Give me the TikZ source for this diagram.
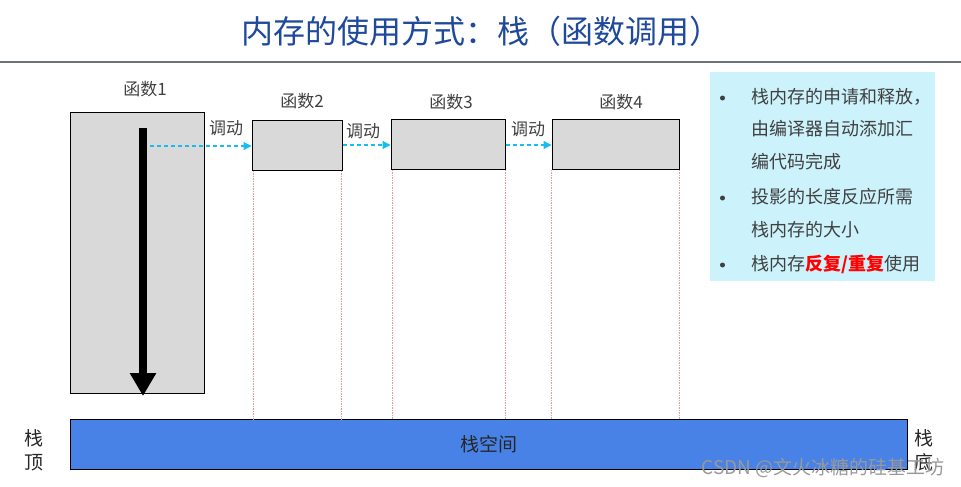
\documentclass[tikz,border=0pt]{standalone}
\usepackage{fontspec}
\setmainfont{Noto Sans CJK SC}
\usetikzlibrary{arrows.meta}
\definecolor{titleblue}{RGB}{31,73,155}
\definecolor{rulegray}{RGB}{110,115,122}
\definecolor{boxgray}{RGB}{217,217,217}
\definecolor{callcyan}{RGB}{20,190,240}
\definecolor{infocyan}{RGB}{204,242,252}
\definecolor{stackblue}{RGB}{72,130,230}
\definecolor{txtgray}{RGB}{64,64,64}
\definecolor{guidered}{RGB}{245,150,150}
\tikzset{
  funcbox/.style={draw=black, line width=1pt, fill=boxgray},
  flabel/.style={font=\fontsize{17}{20}\selectfont, text=txtgray, inner sep=0pt},
  calllink/.style={draw=callcyan, line width=1.1pt, dash pattern=on 4pt off 3pt, -{Triangle[length=8pt,width=8pt]}},
  guide/.style={draw=guidered, line width=0.6pt, dash pattern=on 1.5pt off 1pt},
  info/.style={font=\fontsize{18}{20}\selectfont, text=txtgray, anchor=west, inner sep=0pt},
  bul/.style={circle, fill=txtgray, minimum size=5pt, inner sep=0pt},
}
\begin{document}
\begin{tikzpicture}[x=1pt,y=-1pt]
\useasboundingbox (0,0) rectangle (961,487);
% title
\node[font=\fontsize{32}{35}\selectfont, text=titleblue, inner sep=0pt] (title) at (481,31) {内存的使用方式：栈（函数调用）};
\draw[rulegray, line width=1.5pt] (0,62) -- (961,62);
% function boxes
\node[funcbox, minimum width=134pt, minimum height=281pt, inner sep=0pt] (f1) at (137,252.5) {};
\node[funcbox, minimum width=90pt, minimum height=50pt, inner sep=0pt] (f2) at (297,145) {};
\node[funcbox, minimum width=114pt, minimum height=50pt, inner sep=0pt] (f3) at (448,144) {};
\node[funcbox, minimum width=127pt, minimum height=50pt, inner sep=0pt] (f4) at (615.5,144) {};
\node[flabel] (l1) at (145,89) {函数1};
\node[flabel] (l2) at (302,101) {函数2};
\node[flabel] (l3) at (451,102) {函数3};
\node[flabel] (l4) at (621,102) {函数4};
% big arrow
\coordinate (bs) at (143,128);
\coordinate (be) at (143,396);
\draw[line width=8pt, -{Triangle[length=23pt,width=25pt]}] (bs) -- (be);
% call arrows
\coordinate (c1) at (150,146);
\draw[calllink] (c1) -- (f2.west |- c1);
\draw[calllink] (f2.east |- 0,145) -- (f3.west |- 0,145);
\draw[calllink] (f3.east |- 0,145) -- (f4.west |- 0,145);
\node[flabel] (d1) at (226,128) {调动};
\node[flabel] (d2) at (363,131) {调动};
\node[flabel] (d3) at (528,129) {调动};
% stack bar
\node[draw=black, line width=1pt, fill=stackblue, minimum width=837pt, minimum height=50pt, inner sep=0pt, font=\fontsize{19}{22}\selectfont, text=black!85] (stack) at (488.5,444) {栈空间};
% guides
\draw[guide] (f2.south west) ++(2,0) -- ++(0,249);
\draw[guide] (f2.south east) ++(-1,0) -- ++(0,249);
\draw[guide] (f3.south west) ++(2,0) -- ++(0,250);
\draw[guide] (f3.south east) ++(0,0) -- ++(0,250);
\draw[guide] (f4.south west) ++(0,0) -- ++(0,250);
\draw[guide] (f4.south east) ++(0,0) -- ++(0,250);
% top/bottom labels
\node[font=\fontsize{19}{24}\selectfont, align=center, inner sep=0pt, text=black!85] (top) at (34,450) {栈\\顶};
\node[font=\fontsize{19}{24}\selectfont, align=center, inner sep=0pt, text=black!85] (bot) at (924,450) {栈\\底};
% info box
\node[fill=infocyan, minimum width=225pt, minimum height=209pt, inner sep=0pt] (infobox) at (822.5,176.5) {};
\node[bul] (b1) at (722.5,98) {};
\node[bul] (b2) at (722.5,198) {};
\node[bul] (b3) at (722.5,265) {};
\node[info] (t1) at (751,97) {栈内存的申请和释放，};
\node[info] (t2) at (751,129) {由编译器自动添加汇};
\node[info] (t3) at (751,162) {编代码完成};
\node[info] (t4) at (751,197) {投影的长度反应所需};
\node[info] (t5) at (751,230) {栈内存的大小};
\node[info] (t6) at (751,264) {栈内存\textcolor{red}{\bfseries 反复/重复}使用};
% watermark
\node[font=\fontsize{19}{21}\selectfont, text=black!40, anchor=east, inner sep=0pt] (wm) at (945,468) {CSDN @文火冰糖的硅基工坊};
\end{tikzpicture}
\end{document}
